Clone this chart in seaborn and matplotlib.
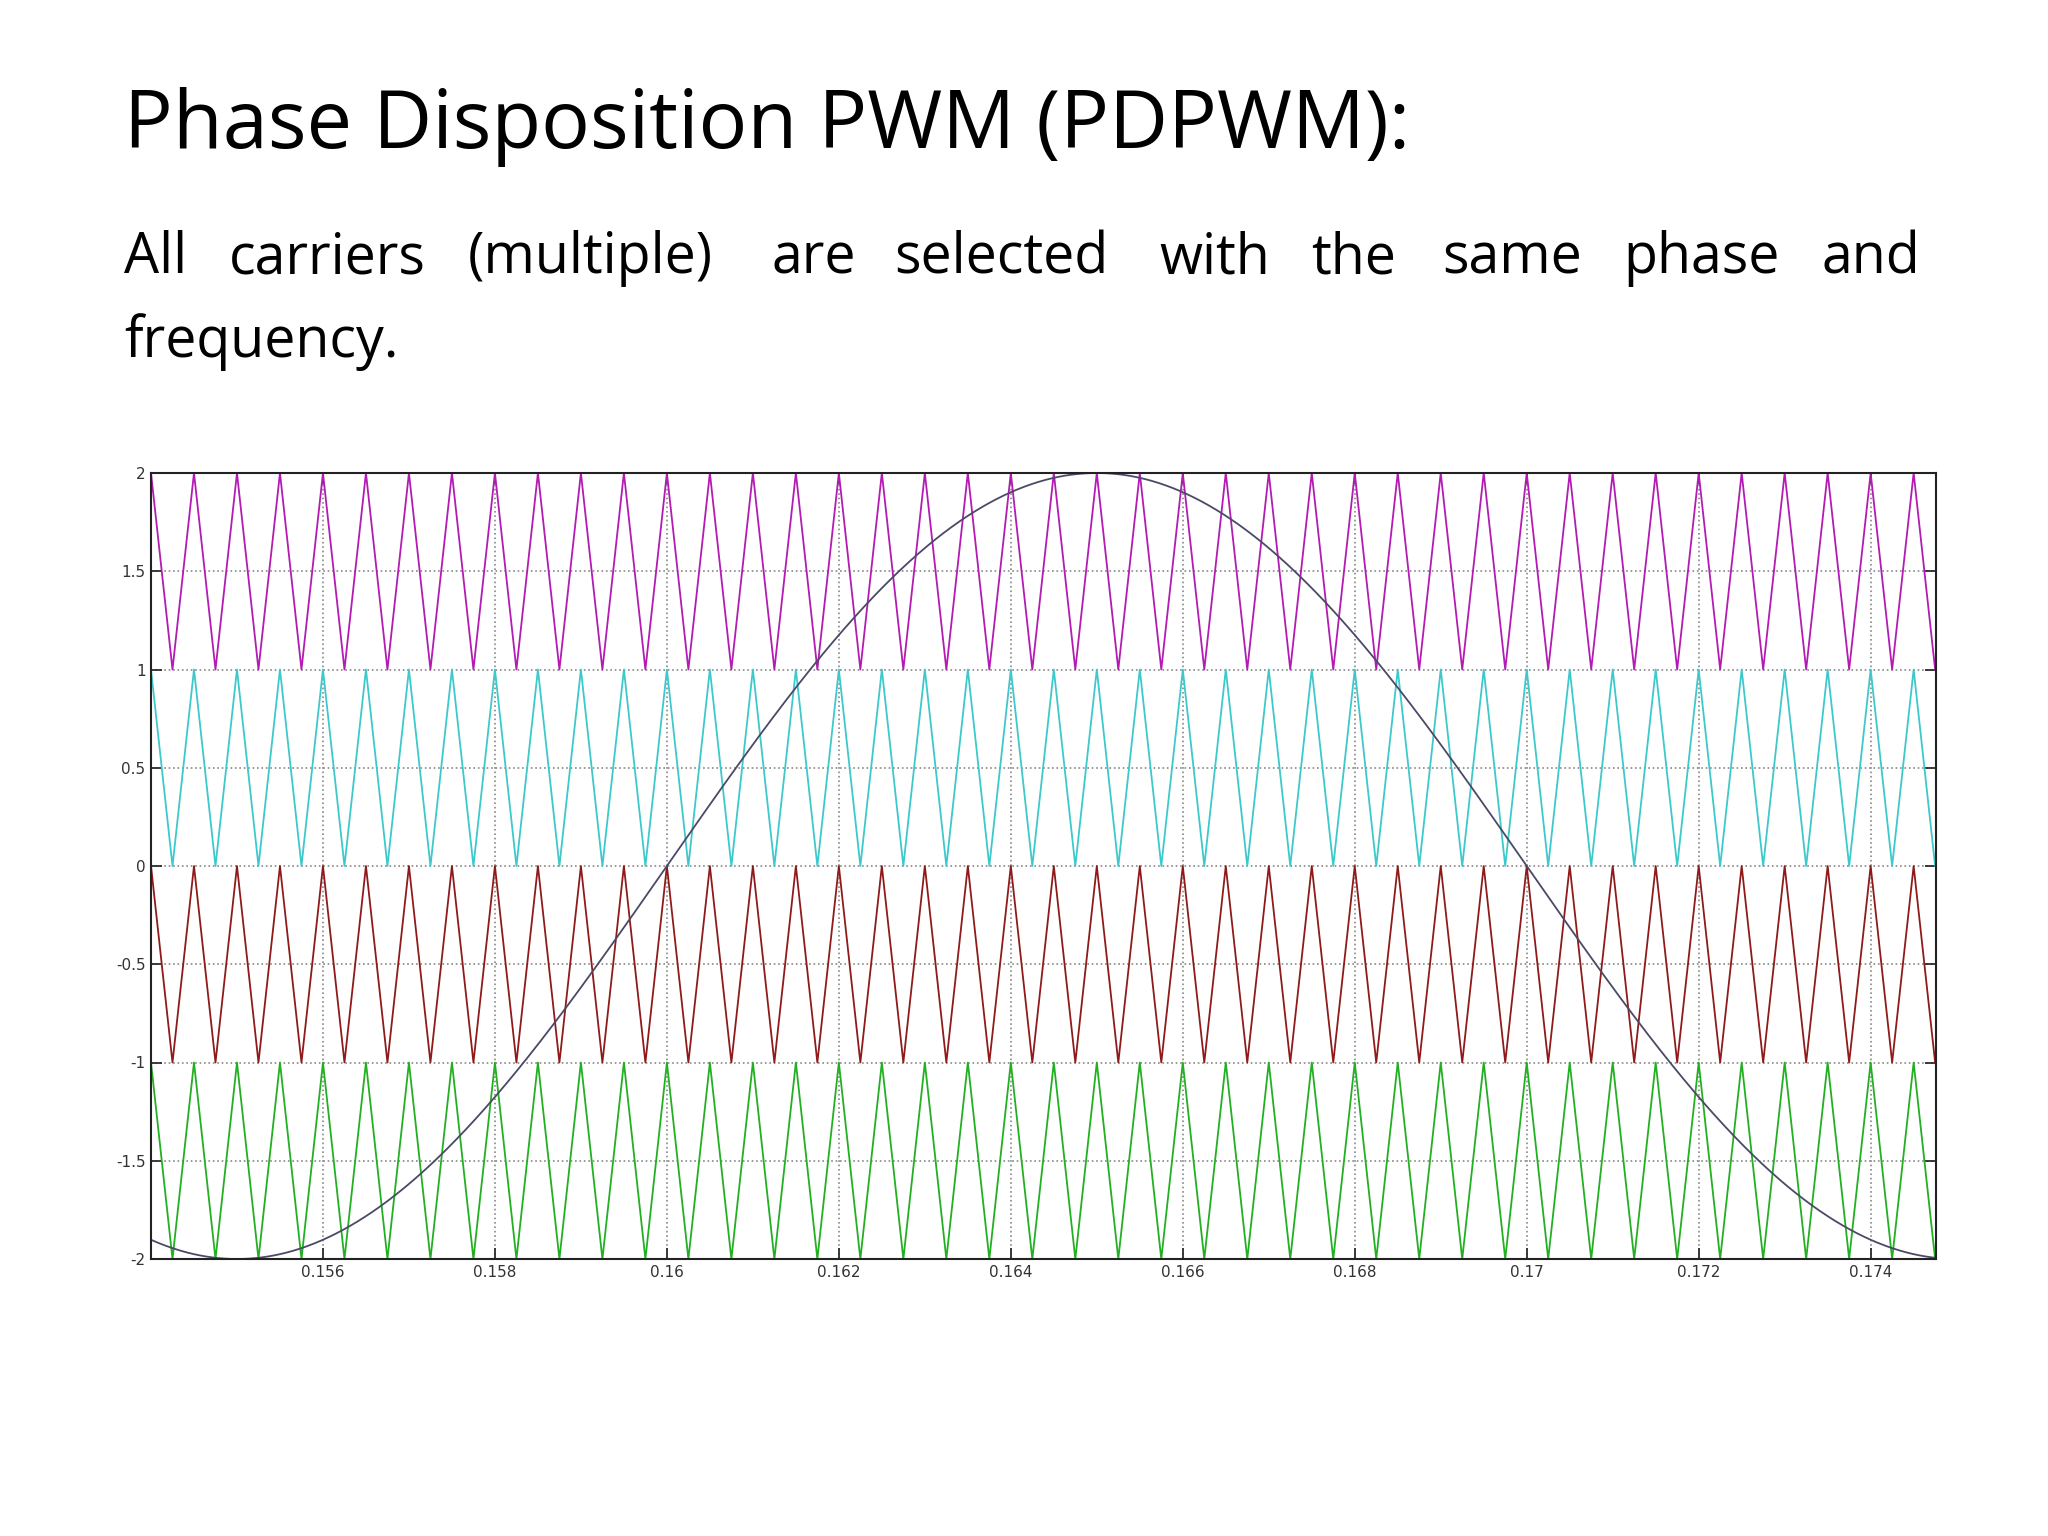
import numpy as np
import matplotlib
matplotlib.use("Agg")
import matplotlib.pyplot as plt
import seaborn as sns

# carrier setup (phase disposition: all carriers same phase / frequency)
carrier_offsets = [1, 0, -1, -2]
carrier_colors = ["#b31bb3", "#3cc9cc", "#8e1a1a", "#22b022"]
carrier_freq = 2000.0  # Hz
ref_amp = 2.0
ref_freq = 50.0  # Hz
t_start, t_end = 0.154, 0.17476
x_ticks = [0.156, 0.158, 0.16, 0.162, 0.164, 0.166, 0.168, 0.17, 0.172, 0.174]
x_labels = ["0.156", "0.158", "0.16", "0.162", "0.164", "0.166", "0.168", "0.17", "0.172", "0.174"]
y_ticks = [-2, -1.5, -1, -0.5, 0, 0.5, 1, 1.5, 2]
y_labels = ["-2", "-1.5", "-1", "-0.5", "0", "0.5", "1", "1.5", "2"]

sns.set_theme(style="white")
plt.rcParams["font.family"] = ["DejaVu Sans"]

fig = plt.figure(figsize=(20.48, 15.36), dpi=100)
fig.patch.set_facecolor("white")

# slide text
fig.text(124 / 2048, 1 - 127 / 1536, "Phase Disposition PWM (PDPWM):",
         fontsize=58.5, family="Open Sans", va="center", ha="left", color="black")
words = ["All", "carriers", "(multiple)", "are", "selected", "with", "the", "same", "phase", "and"]
word_x = [95, 175, 358, 591, 685, 888, 1004, 1104, 1243, 1395]
for w, wx in zip(words, word_x):
    fig.text(wx * 1.306 / 2048, 1 - 198 * 1.306 / 1536, w, fontsize=40,
             family="Open Sans", va="center", ha="left", color="black")
fig.text(95 * 1.306 / 2048, 1 - 262 * 1.306 / 1536, "frequency.", fontsize=40,
         family="Open Sans", va="center", ha="left", color="black")

ax = fig.add_axes([151 / 2048, 1 - 1259 / 1536, (1936 - 151) / 2048, (1259 - 473) / 1536])

half = 0.5 / carrier_freq
vt = np.arange(t_start - (t_start % half), t_end + half, half)
phase = np.round(vt / half).astype(int) % 2  # 0 -> peak, 1 -> trough
for off, col in zip(carrier_offsets, carrier_colors):
    vy = off + np.where(phase == 0, 1.0, 0.0)
    sns.lineplot(x=vt, y=vy, ax=ax, color=col, linewidth=1.3, sort=False, estimator=None)

ts = np.linspace(t_start, t_end, 2000)
ref = ref_amp * np.sin(2 * np.pi * ref_freq * ts)
sns.lineplot(x=ts, y=ref, ax=ax, color="#4a4a68", linewidth=1.3, estimator=None)

ax.set_xlim(t_start, t_end)
ax.set_ylim(-2, 2)
ax.set_xticks(x_ticks)
ax.set_xticklabels(x_labels, fontsize=11, color="#333333")
ax.set_yticks(y_ticks)
ax.set_yticklabels(y_labels, fontsize=11, color="#333333")
ax.grid(True, linestyle=":", color="#888888", linewidth=1.2)
ax.tick_params(direction="in", length=8, left=True, bottom=True, right=True, top=True, pad=4)
for s in ax.spines.values():
    s.set_color("#222222")
    s.set_linewidth(1.5)

fig.savefig("out.png", dpi=100, facecolor="white")
